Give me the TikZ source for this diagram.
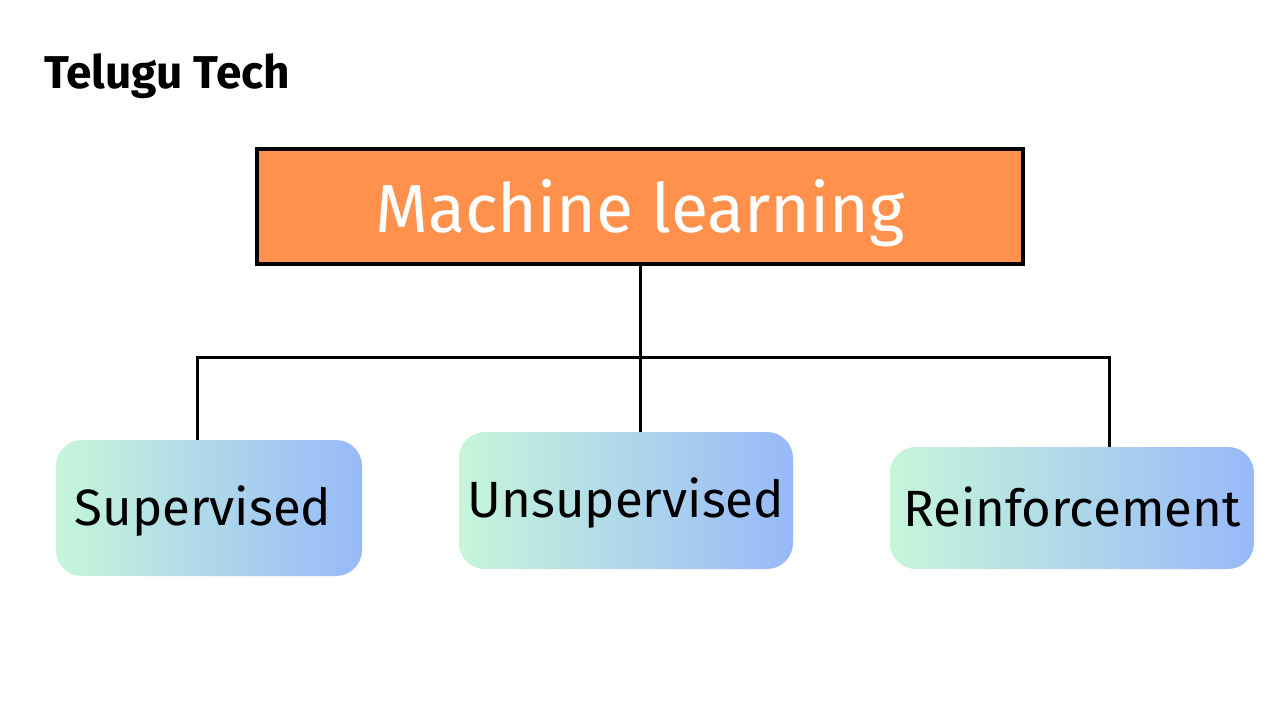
\documentclass[tikz,border=0pt]{standalone}
\usepackage{fontspec}
\setmainfont{Fira Sans}
\definecolor{mlorange}{RGB}{255,145,77}
\definecolor{mint}{RGB}{198,246,218}
\definecolor{skyblue}{RGB}{151,185,249}
\newcommand{\basedrop}[2]{\smash{\raisebox{-#1}{#2}}}
\tikzset{
  catbox/.style={rounded corners=26pt, left color=mint, right color=skyblue, draw=none,
    inner sep=0pt, font=\fontsize{51}{60}\selectfont, text=black},
  link/.style={line width=3pt, draw=black}
}
\begin{document}
\begin{tikzpicture}[x=1pt,y=-1pt]
\useasboundingbox[fill=white] (0,0) rectangle (1280,720);
\node[anchor=base west, font=\fontsize{46}{54}\selectfont\bfseries, inner sep=0pt] (title) at (44,88) {Telugu Tech};
\node[draw=black, line width=4pt, fill=mlorange, minimum width=766pt, minimum height=115pt,
  inner sep=0pt, text=white, font=\fontsize{68}{78}\selectfont] (ml) at (640,206) {\basedrop{26pt}{Machine learning}};
\node[catbox, minimum width=306pt, minimum height=136pt] (sup) at (209,508) {\hspace{-12pt}\basedrop{17pt}{Supervised}};
\node[catbox, minimum width=334pt, minimum height=137pt] (uns) at (626,500.5) {\basedrop{16.5pt}{Unsupervised}};
\node[catbox, minimum width=364pt, minimum height=122pt] (rei) at (1072,508) {\basedrop{18pt}{Reinforcement}};
\coordinate (jl) at (197,357);
\coordinate (jr) at (1109,357);
\coordinate (jc) at (ml.south |- jl);
\draw[link] (ml.south) -- (jc);
\draw[link, line cap=rect] (jl) -- (jr);
\draw[link] (jl) -- (sup.north -| jl);
\draw[link] (jc) -- (uns.north -| jc);
\draw[link] (jr) -- (rei.north -| jr);
\end{tikzpicture}
\end{document}
